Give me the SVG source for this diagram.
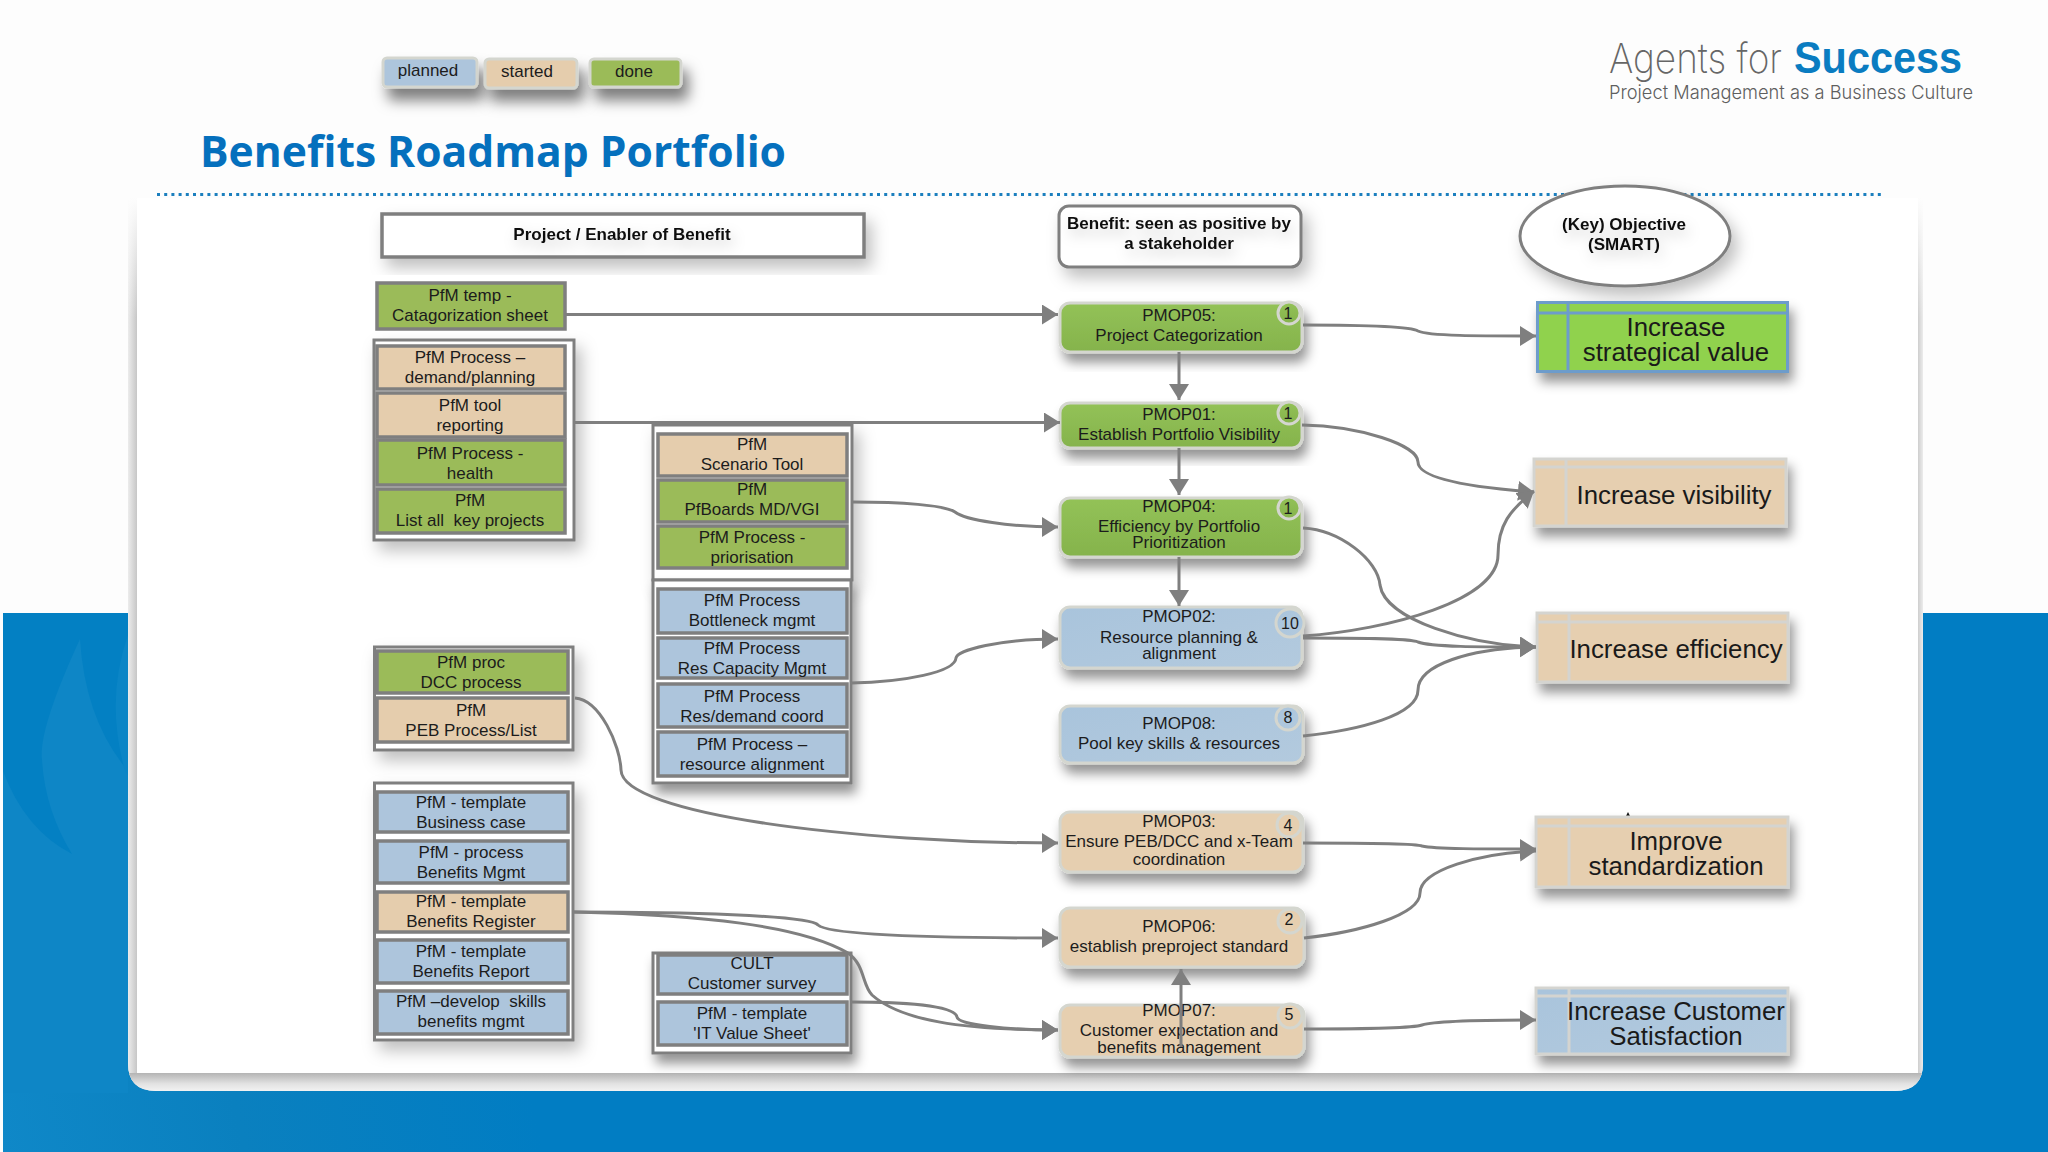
<svg xmlns="http://www.w3.org/2000/svg" width="2048" height="1152" viewBox="0 0 2048 1152">
<style>
text{font-family:"Liberation Sans",Arial,sans-serif;fill:#1c1c1c;font-size:17px;text-anchor:middle;white-space:pre}
.b{stroke:#7f7f7f;stroke-width:3.5}
.g{fill:#9bbb59}.t{fill:#e5cdad}.u{fill:#adc5dc}
.n{stroke:#d4d6cf;stroke-width:3;}
.gn{fill:url(#gg)}.tn{fill:#e6cfb0}.un{fill:url(#ug)}
.bd{font-weight:bold;font-size:17px;fill:#111}
.o{font-size:25.800px;fill:#1a1a1a}
.ol{fill:none;stroke:#d4d4d0;stroke-width:3}
.cn path{fill:none;stroke:#7f7f7f;stroke-width:3;marker-end:url(#ah)}
</style>
<defs>
<marker id="ah" markerUnits="userSpaceOnUse" markerWidth="18" markerHeight="22" refX="16" refY="10" orient="auto"><polygon points="0,0 16,10 0,20" fill="#7f7f7f"/></marker>
<filter id="sh" x="-20%" y="-30%" width="145%" height="170%"><feDropShadow dx="4" dy="9" stdDeviation="6" flood-color="#000" flood-opacity=".42"/></filter>
<filter id="sg" x="-30%" y="-50%" width="170%" height="260%"><feDropShadow dx="6" dy="12" stdDeviation="7" flood-color="#000" flood-opacity=".5"/></filter>
<filter id="sl" x="-20%" y="-30%" width="145%" height="170%"><feDropShadow dx="6" dy="9" stdDeviation="8" flood-color="#000" flood-opacity=".25"/></filter>
<filter id="ts" x="-20%" y="-80%" width="140%" height="300%"><feDropShadow dx="3" dy="6" stdDeviation="7" flood-color="#000" flood-opacity=".2"/></filter>
<linearGradient id="gg" x1="0" y1="0" x2="0" y2="1"><stop offset="0" stop-color="#93c257"/><stop offset="1" stop-color="#85b34c"/></linearGradient>
<linearGradient id="ug" x1="0" y1="0" x2="1" y2="1"><stop offset="0" stop-color="#a9c4dc"/><stop offset="1" stop-color="#b3cade"/></linearGradient>
<linearGradient id="bl" gradientUnits="userSpaceOnUse" x1="0" y1="1152" x2="520" y2="1040"><stop offset="0" stop-color="#0f88c8"/><stop offset=".45" stop-color="#0a80bf"/><stop offset="1" stop-color="#017dc3"/></linearGradient>
<linearGradient id="ls" x1="0" y1="0" x2="1" y2="0"><stop offset="0" stop-color="#ececec"/><stop offset="1" stop-color="#c6c6c6"/></linearGradient>
<linearGradient id="rs" x1="0" y1="0" x2="1" y2="0"><stop offset="0" stop-color="#c8c8c8"/><stop offset="1" stop-color="#ececec"/></linearGradient>
<linearGradient id="bs" x1="0" y1="0" x2="0" y2="1"><stop offset="0" stop-color="#b4b4b4"/><stop offset=".6" stop-color="#e2e2e2"/><stop offset="1" stop-color="#f2f2f2"/></linearGradient>
<linearGradient id="fade" x1="0" y1="0" x2="0" y2="1"><stop offset="0" stop-color="#fdfdfd"/><stop offset="1" stop-color="#fdfdfd" stop-opacity="0"/></linearGradient>
<clipPath id="pc"><path d="M128 198H1923V1063Q1923 1091 1895 1091H156Q128 1091 128 1063Z"/></clipPath>
</defs>

<g id="background">
<rect width="2048" height="1152" fill="#fdfdfd"/>
<rect x="3" y="613" width="2045" height="539" fill="url(#bl)"/>
<rect x="3" y="613" width="125" height="480" fill="#0e86c6"/>
<path d="M3 613H128V771Q85 720 80 639Q38 730 42 760Q45 810 72 854Q25 830 3 771Z" fill="#0380c3"/>
<path d="M128 635Q105 700 125 771L128 775Z" fill="#0b85c6"/>
<g clip-path="url(#pc)">
<rect x="128" y="198" width="1795" height="893" fill="#eaeaea"/>
<rect x="128" y="198" width="9" height="885" fill="url(#ls)"/>
<rect x="1917" y="198" width="6" height="885" fill="url(#rs)"/>
<rect x="128" y="1073" width="1795" height="18" fill="url(#bs)"/>
<rect x="128" y="198" width="9" height="120" fill="url(#fade)"/>
<rect x="1917" y="198" width="6" height="120" fill="url(#fade)"/>
</g>
<rect x="137" y="198" width="1781" height="875" fill="#fff"/>
<line x1="157" y1="194.500" x2="1885" y2="194.500" stroke="#1b7fbe" stroke-width="3" stroke-dasharray="3 4.200"/>
</g>

<g id="title"><text x="200" y="167" style="font-family:'Open Sans','Liberation Sans',sans-serif;font-weight:700;font-size:43px;fill:#0570bd;text-anchor:start" textLength="586" lengthAdjust="spacingAndGlyphs">Benefits Roadmap Portfolio</text></g>

<g id="logo">
<text x="1609" y="73" style="font-family:Inter,'Liberation Sans',sans-serif;font-weight:200;font-size:41px;fill:#666;text-anchor:start" textLength="173" lengthAdjust="spacingAndGlyphs">Agents for</text>
<text x="1794" y="73" style="font-weight:bold;font-size:44px;fill:#0a7cc1;text-anchor:start" textLength="168" lengthAdjust="spacingAndGlyphs">Success</text>
<text x="1609" y="99" style="font-family:Inter,'Liberation Sans',sans-serif;font-weight:300;font-size:19px;fill:#5f5f5f;text-anchor:start" textLength="364" lengthAdjust="spacingAndGlyphs">Project Management as a Business Culture</text>
</g>

<g id="legend-planned"><rect x="383" y="58" width="94" height="29" rx="4" class="u n" filter="url(#sg)"/><text x="428" y="76">planned</text></g>
<g id="legend-started"><rect x="485" y="59" width="92" height="29" rx="4" class="t n" filter="url(#sg)"/><text x="527" y="77">started</text></g>
<g id="legend-done"><rect x="590" y="59" width="91" height="28" rx="4" class="g n" filter="url(#sg)"/><text x="634" y="77">done</text></g>

<g id="header-project"><rect x="382" y="214" width="482" height="43" fill="#fff" stroke="#7f7f7f" stroke-width="3.500" filter="url(#sl)"/><text x="622" y="240" class="bd" filter="url(#ts)">Project / Enabler of Benefit</text></g>
<g id="header-benefit"><rect x="1059" y="206" width="242" height="61" rx="10" fill="#fff" stroke="#7f7f7f" stroke-width="3" filter="url(#sl)"/><text class="bd" filter="url(#ts)"><tspan x="1179" y="229">Benefit: seen as positive by</tspan><tspan x="1179" y="249">a stakeholder</tspan></text></g>
<g id="header-objective"><ellipse cx="1625" cy="236" rx="105" ry="50" fill="#fff" stroke="#7f7f7f" stroke-width="3" filter="url(#sl)"/><text class="bd" filter="url(#ts)"><tspan x="1624" y="230">(Key) Objective</tspan><tspan x="1624" y="250">(SMART)</tspan></text></g>

<g id="containers" fill="#fff" stroke="#7f7f7f" stroke-width="3">
<rect id="group-a" x="374" y="340" width="200" height="200" filter="url(#sl)"/>
<rect id="group-b" x="653" y="425" width="199" height="155" filter="url(#sl)"/>
<rect id="group-c" x="653" y="580" width="198" height="203" filter="url(#sh)"/>
<rect id="group-d" x="374.500" y="647" width="198.500" height="103" filter="url(#sl)"/>
<rect id="group-e" x="374.500" y="783" width="198.500" height="257" filter="url(#sl)"/>
<rect id="group-f" x="653" y="953" width="198" height="100" filter="url(#sh)"/>
</g>

<g id="e1"><rect x="377" y="283" width="188" height="46" class="g b"/><text><tspan x="470" y="301">PfM temp -</tspan><tspan x="470" y="321">Catagorization sheet</tspan></text></g>
<g id="e2"><rect x="377" y="346" width="188" height="43" class="t b"/><text><tspan x="470" y="363">PfM Process –</tspan><tspan x="470" y="383">demand/planning</tspan></text></g>
<g id="e3"><rect x="377" y="393" width="188" height="44" class="t b"/><text><tspan x="470" y="411">PfM tool</tspan><tspan x="470" y="431">reporting</tspan></text></g>
<g id="e4"><rect x="377" y="440" width="188" height="45" class="g b"/><text><tspan x="470" y="459">PfM Process -</tspan><tspan x="470" y="479">health</tspan></text></g>
<g id="e5"><rect x="377" y="489" width="188" height="44" class="g b"/><text><tspan x="470" y="506">PfM</tspan><tspan x="470" y="526">List all  key projects</tspan></text></g>

<g id="e6"><rect x="658" y="434" width="189" height="42" class="t b"/><text><tspan x="752" y="450">PfM</tspan><tspan x="752" y="470">Scenario Tool</tspan></text></g>
<g id="e7"><rect x="658" y="480" width="189" height="42" class="g b"/><text><tspan x="752" y="495">PfM</tspan><tspan x="752" y="515">PfBoards MD/VGI</tspan></text></g>
<g id="e8"><rect x="658" y="526" width="189" height="42" class="g b"/><text><tspan x="752" y="543">PfM Process -</tspan><tspan x="752" y="563">priorisation</tspan></text></g>

<g id="e9"><rect x="658" y="589" width="189" height="44" class="u b"/><text><tspan x="752" y="606">PfM Process</tspan><tspan x="752" y="626">Bottleneck mgmt</tspan></text></g>
<g id="e10"><rect x="658" y="638" width="189" height="40" class="u b"/><text><tspan x="752" y="654">PfM Process</tspan><tspan x="752" y="674">Res Capacity Mgmt</tspan></text></g>
<g id="e11"><rect x="658" y="684" width="189" height="43" class="u b"/><text><tspan x="752" y="702">PfM Process</tspan><tspan x="752" y="722">Res/demand coord</tspan></text></g>
<g id="e12"><rect x="658" y="732" width="189" height="44" class="u b"/><text><tspan x="752" y="750">PfM Process –</tspan><tspan x="752" y="770">resource alignment</tspan></text></g>

<g id="e13"><rect x="377" y="651" width="191" height="42" class="g b"/><text><tspan x="471" y="668">PfM proc</tspan><tspan x="471" y="688">DCC process</tspan></text></g>
<g id="e14"><rect x="377" y="698" width="191" height="44" class="t b"/><text><tspan x="471" y="716">PfM</tspan><tspan x="471" y="736">PEB Process/List</tspan></text></g>

<g id="e15"><rect x="377" y="792" width="191" height="40" class="u b"/><text><tspan x="471" y="808">PfM - template</tspan><tspan x="471" y="828">Business case</tspan></text></g>
<g id="e16"><rect x="377" y="841" width="191" height="42" class="u b"/><text><tspan x="471" y="858">PfM - process</tspan><tspan x="471" y="878">Benefits Mgmt</tspan></text></g>
<g id="e17"><rect x="377" y="892" width="191" height="40" class="t b"/><text><tspan x="471" y="907">PfM - template</tspan><tspan x="471" y="927">Benefits Register</tspan></text></g>
<g id="e18"><rect x="377" y="940" width="191" height="43" class="u b"/><text><tspan x="471" y="957">PfM - template</tspan><tspan x="471" y="977">Benefits Report</tspan></text></g>
<g id="e19"><rect x="377" y="991" width="191" height="43" class="u b"/><text><tspan x="471" y="1007">PfM –develop  skills</tspan><tspan x="471" y="1027">benefits mgmt</tspan></text></g>

<g id="e20"><rect x="658" y="955" width="189" height="39" class="u b"/><text><tspan x="752" y="969">CULT</tspan><tspan x="752" y="989">Customer survey</tspan></text></g>
<g id="e21"><rect x="658" y="1002" width="189" height="43" class="u b"/><text><tspan x="752" y="1019">PfM - template</tspan><tspan x="752" y="1039">'IT Value Sheet'</tspan></text></g>

<g id="PMOP05"><rect x="1060" y="303" width="242" height="49" rx="10" class="gn n" filter="url(#sh)"/><circle cx="1289" cy="313" r="11" class="gn n"/><text><tspan x="1179" y="321">PMOP05:</tspan><tspan x="1179" y="341">Project Categorization</tspan></text><text x="1288" y="319" style="font-size:16px">1</text></g>
<g id="PMOP01"><rect x="1060" y="403" width="242" height="45" rx="10" class="gn n" filter="url(#sh)"/><circle cx="1289" cy="413" r="11" class="gn n"/><text><tspan x="1179" y="420">PMOP01:</tspan><tspan x="1179" y="440">Establish Portfolio Visibility</tspan></text><text x="1288" y="419" style="font-size:16px">1</text></g>
<g id="PMOP04"><rect x="1060" y="498" width="242" height="59" rx="10" class="gn n" filter="url(#sh)"/><circle cx="1289" cy="508" r="11" class="gn n"/><text><tspan x="1179" y="512">PMOP04:</tspan><tspan x="1179" y="532">Efficiency by Portfolio</tspan><tspan x="1179" y="548">Prioritization</tspan></text><text x="1288" y="514" style="font-size:16px">1</text></g>
<g id="PMOP02"><rect x="1060" y="607" width="242" height="61" rx="10" class="un n" filter="url(#sh)"/><circle cx="1290" cy="623" r="14" class="un n"/><text><tspan x="1179" y="622">PMOP02:</tspan><tspan x="1179" y="643">Resource planning &amp;</tspan><tspan x="1179" y="659">alignment</tspan></text><text x="1290" y="629" style="font-size:16px">10</text></g>
<g id="PMOP08"><rect x="1060" y="706" width="243" height="57" rx="10" class="un n" filter="url(#sh)"/><circle cx="1288" cy="718" r="12" class="un n"/><text><tspan x="1179" y="729">PMOP08:</tspan><tspan x="1179" y="749">Pool key skills &amp; resources</tspan></text><text x="1288" y="723" style="font-size:16px">8</text></g>
<g id="PMOP03"><rect x="1060" y="812" width="243" height="60" rx="10" class="tn n" filter="url(#sh)"/><circle cx="1289" cy="825" r="12" fill="#e6cfb0" class="n"/><text><tspan x="1179" y="827">PMOP03:</tspan><tspan x="1179" y="847">Ensure PEB/DCC and x-Team</tspan><tspan x="1179" y="865">coordination</tspan></text><text x="1288" y="831" style="font-size:16px">4</text></g>
<g id="PMOP06"><rect x="1060" y="908" width="244" height="59" rx="10" class="tn n" filter="url(#sh)"/><circle cx="1290" cy="921" r="12" fill="#e6cfb0" class="n"/><text><tspan x="1179" y="932">PMOP06:</tspan><tspan x="1179" y="952">establish preproject standard</tspan></text><text x="1289" y="925" style="font-size:16px">2</text></g>
<g id="PMOP07"><rect x="1060" y="1005" width="244" height="52" rx="10" class="tn n" filter="url(#sh)"/><circle cx="1290" cy="1016" r="12" fill="#e6cfb0" class="n"/><text><tspan x="1179" y="1016">PMOP07:</tspan><tspan x="1179" y="1036">Customer expectation and</tspan><tspan x="1179" y="1053">benefits management</tspan></text><text x="1289" y="1020" style="font-size:16px">5</text></g>

<g id="obj-strategic"><rect x="1537.500" y="302.500" width="250" height="69" fill="#90d24e" stroke="#6d9ccb" stroke-width="3" filter="url(#sh)"/><path d="M1537 313H1788M1568 303V371" fill="none" stroke="#6d9ccb" stroke-width="3"/><text class="o"><tspan x="1676" y="336">Increase</tspan><tspan x="1676" y="361">strategical value</tspan></text></g>
<g id="obj-visibility"><rect x="1534" y="459" width="252" height="67" class="tn" stroke="#d4d4d0" stroke-width="3" filter="url(#sh)"/><path d="M1534 467H1786M1566 459V526" class="ol"/><text x="1674" y="504" class="o">Increase visibility</text></g>
<g id="obj-efficiency"><rect x="1537" y="613" width="251" height="69" class="tn" stroke="#d4d4d0" stroke-width="3" filter="url(#sh)"/><path d="M1537 622H1788M1569 613V682" class="ol"/><text x="1676" y="658" class="o">Increase efficiency</text></g>
<g id="obj-standard"><polygon points="1628,812 1630.500,817 1625.500,817" fill="#111"/><rect x="1536" y="817" width="252" height="70" class="tn" stroke="#d4d4d0" stroke-width="3" filter="url(#sh)"/><path d="M1536 826H1788M1569 817V887" class="ol"/><text class="o"><tspan x="1676" y="850">Improve</tspan><tspan x="1676" y="875">standardization</tspan></text></g>
<g id="obj-customer"><rect x="1536" y="988" width="252" height="66" class="un" stroke="#d4d4d0" stroke-width="3" filter="url(#sh)"/><path d="M1536 996H1788M1569 988V1054" class="ol"/><text class="o"><tspan x="1676" y="1020">Increase Customer</tspan><tspan x="1676" y="1045">Satisfaction</tspan></text></g>

<g id="connectors" class="cn">
<path d="M565 314.500H1058"/>
<path d="M574 422.500H1060"/>
<path d="M853 502C900 502 945 505 955 512C965 520 1010 527 1058 527"/>
<path d="M851 683C905 682 955 672 956 658C957 650 1000 639 1058 639"/>
<path d="M575 698C600 700 620 745 621 770C622 815 860 843 1058 843"/>
<path d="M574 912C680 912 810 915 818 925C830 936 950 938 1058 938"/>
<path d="M574 912C700 915 800 925 848 953C865 965 862 985 872 995C900 1020 960 1030 1058 1030"/>
<path d="M851 1002C900 1002 955 1005 957 1017C958 1025 1010 1030 1058 1030"/>
<path d="M1179 352V400"/>
<path d="M1179 448V495"/>
<path d="M1179 557V606"/>
<path d="M1181 1047V969"/>
<path d="M1303 325C1350 325 1410 326 1418 331C1428 336 1480 336 1536 336"/>
<path d="M1302 425C1360 426 1418 445 1418 462C1418 480 1480 488 1534 492"/>
<path d="M1303 528C1340 530 1378 560 1380 585C1385 620 1470 645 1536 647"/>
<path d="M1303 636C1390 630 1498 600 1498 555C1498 525 1510 510 1534 491"/>
<path d="M1303 638C1350 638 1410 638 1418 642C1430 647 1480 647 1536 647"/>
<path d="M1303 736C1360 730 1418 715 1418 690C1418 665 1470 648 1536 647"/>
<path d="M1303 843C1350 843 1415 843 1422 846C1435 849 1480 849 1536 849"/>
<path d="M1304 938C1360 932 1420 915 1420 893C1420 870 1480 853 1536 851"/>
<path d="M1304 1029C1350 1029 1410 1029 1422 1025C1435 1021 1480 1020 1536 1020"/>
</g>
</svg>
